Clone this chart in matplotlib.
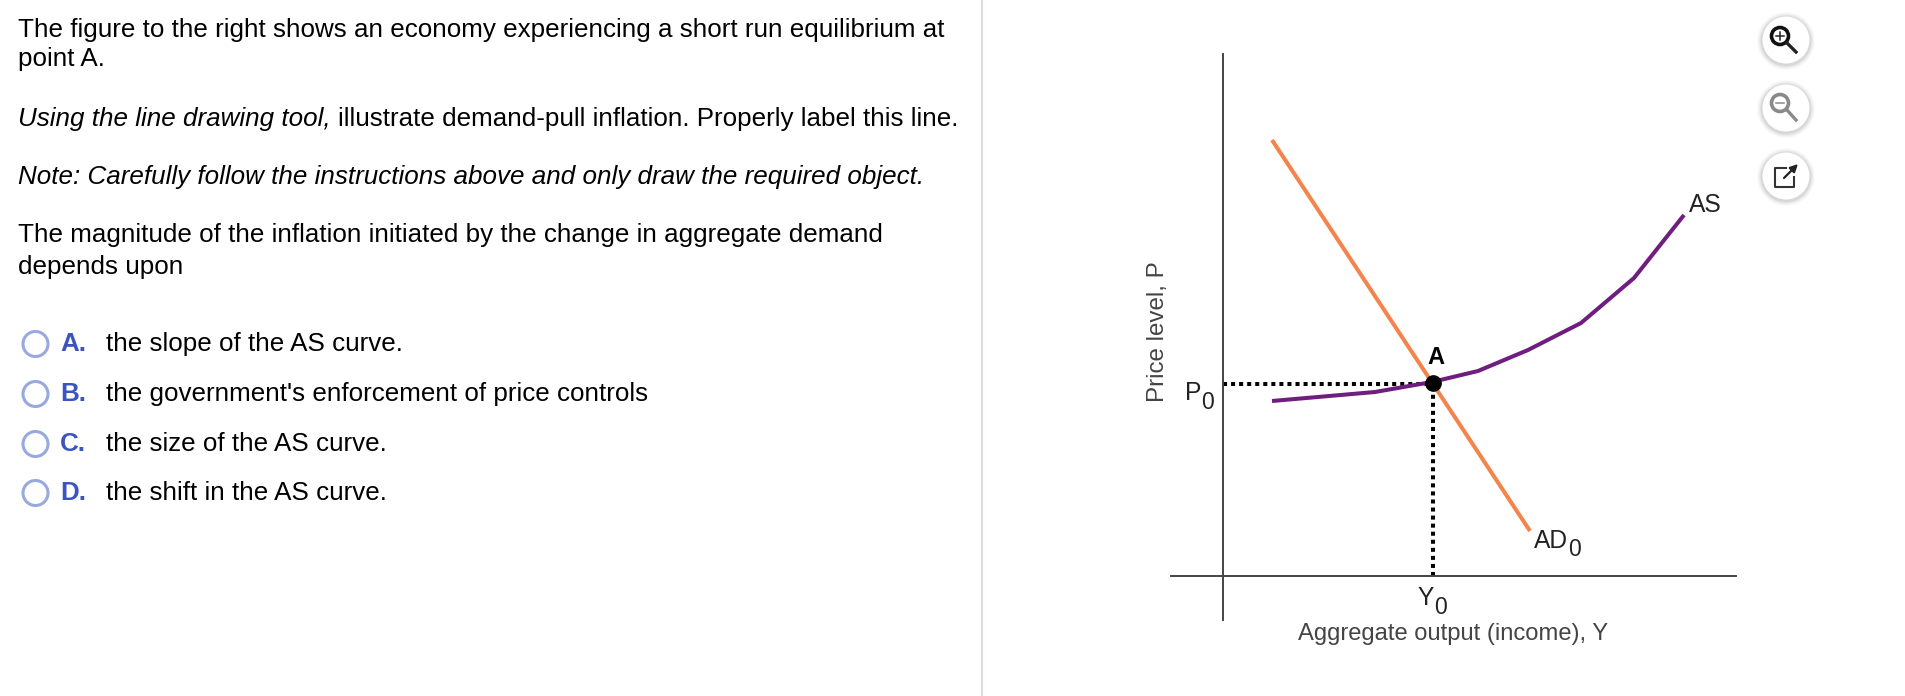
import matplotlib
matplotlib.use("Agg")
import matplotlib.pyplot as plt
from matplotlib.patches import Circle

W, H = 1906, 696

# curves
ad_x = [9.8, 61.4]
ad_p = [87.2, 9.0]
as_x = [9.8, 30.4, 41.8, 51.0, 61.0, 71.6, 82.2, 92.2]
as_p = [35.0, 36.8, 38.8, 41.0, 45.2, 50.6, 59.6, 72.2]
y0 = 42.0
p0 = 38.4

# question text
intro_lines = ["The figure to the right shows an economy experiencing a short run equilibrium at", "point A."]
tool_italic = "Using the line drawing tool,"
tool_rest = "illustrate demand-pull inflation. Properly label this line."
note_line = "Note: Carefully follow the instructions above and only draw the required object."
ask_lines = ["The magnitude of the inflation initiated by the change in aggregate demand", "depends upon"]
option_letters = ["A.", "B.", "C.", "D."]
option_texts = [
    "the slope of the AS curve.",
    "the government's enforcement of price controls",
    "the size of the AS curve.",
    "the shift in the AS curve.",
]

plt.rcParams['font.family'] = ['Liberation Sans', 'DejaVu Sans']

fig = plt.figure(figsize=(W / 100, H / 100), dpi=100)

# overlay in pixel coordinates for the page parts
page = fig.add_axes([0, 0, 1, 1])
page.set_xlim(0, W)
page.set_ylim(H, 0)
page.axis('off')

FS = 18.7
for txt, y in zip(intro_lines, [30, 59]):
    page.text(18, y, txt, fontsize=FS, va='center', color='black')
page.text(18, 119, tool_italic, fontsize=FS, style='italic', va='center', color='black')
page.text(338, 119, tool_rest, fontsize=FS, va='center', color='black')
page.text(18, 177, note_line, fontsize=FS, style='italic', va='center', color='black')
for txt, y in zip(ask_lines, [235, 267]):
    page.text(18, y, txt, fontsize=FS, va='center', color='black')

for letter, txt, y in zip(option_letters, option_texts, [344, 394, 444, 493]):
    page.add_patch(Circle((35.5, y), 12.5, fc='white', ec='#97a9de', lw=2.2))
    page.text(60, y, letter, fontsize=FS, fontweight='bold', va='center', color='#3b55c0')
    page.text(106, y, txt, fontsize=FS, va='center', color='black')

# divider
page.plot([982, 982], [0, H], color='#d3d3e6', lw=1.2)

# zoom / popout buttons
for cy in [40, 108, 176]:
    for r, a in [(29, 0.03), (28, 0.04), (27, 0.06), (26, 0.08), (25, 0.1)]:
        page.add_patch(Circle((1786, cy + 1), r, fc='#777777', ec='none', alpha=a))
    page.add_patch(Circle((1786, cy), 23.5, fc='white', ec='none'))

page.add_patch(Circle((1780, 36), 8.5, fc='none', ec='#111111', lw=2.6))
page.plot([1787, 1796], [43, 52], color='#222222', lw=2.4)
page.plot([1776, 1784], [36, 36], color='#222222', lw=1.1)
page.plot([1780, 1780], [32, 40], color='#222222', lw=1.1)

page.add_patch(Circle((1780, 103), 8.5, fc='none', ec='#8a8a8a', lw=2.6))
page.plot([1787, 1796], [110, 120], color='#8a8a8a', lw=2.4)
page.plot([1776, 1784], [103, 103], color='#8a8a8a', lw=1.1)

page.plot([1786, 1775, 1775, 1794, 1794], [168, 168, 187, 187, 177], color='#333333', lw=1.5)
page.annotate('', xy=(1798, 164), xytext=(1784, 178),
              arrowprops=dict(arrowstyle='-|>', color='#222222', lw=1.6, mutation_scale=11, shrinkA=0, shrinkB=0))

# the chart itself, origin sits where the two axis lines cross
left, right, top, bottom = 1171, 1736, 54, 620
ax = fig.add_axes([left / W, 1 - bottom / H, (right - left) / W, (bottom - top) / H])
ax.patch.set_alpha(0)
ax.set_xlim(-10.4, 102.6)
ax.set_ylim(-8.8, 104.4)
for side in ['top', 'right']:
    ax.spines[side].set_visible(False)
ax.spines['left'].set_position(('data', 0))
ax.spines['bottom'].set_position(('data', 0))
for side in ['left', 'bottom']:
    ax.spines[side].set_color('#444444')
    ax.spines[side].set_linewidth(1.4)
ax.set_xticks([])
ax.set_yticks([])

ax.plot([0, y0], [p0, p0], color='black', lw=2.9, ls=(0, (1, 1)), zorder=2)
ax.plot([y0, y0], [0, p0], color='black', lw=2.9, ls=(0, (1, 1)), zorder=2)
ax.plot(ad_x, ad_p, color='#f4844c', lw=2.9, solid_capstyle='butt', zorder=3)
ax.plot(as_x, as_p, color='#6f1d7f', lw=2.9, solid_capstyle='butt', solid_joinstyle='round', zorder=4)
ax.plot([y0], [p0 + 0.2], 'o', color='black', ms=11, zorder=5)

# labels, subscripts placed as their own text because they sit lower than usual
lab = dict(fontsize=17.7, color='#222222', va='baseline', ha='left')
sub = dict(fontsize=16.5, color='#222222', va='baseline', ha='left')
ax.text(42.6, 42.3, 'A', fontsize=17, fontweight='bold', ha='center', va='baseline', color='black')
ax.text(93.2, 72.8, 'AS', **lab)
ax.text(62.2, 5.6, 'AD', **lab)
ax.text(69.0, 4.0, '0', **sub)
ax.text(-7.6, 35.2, 'P', **lab)
ax.text(-4.4, 33.4, '0', **sub)
ax.text(39.0, -5.8, 'Y', **lab)
ax.text(42.2, -7.6, '0', **sub)
ax.text(46.1, -11.6, 'Aggregate output (income), Y', fontsize=17.1, color='#444444', ha='center', va='center')
ax.text(-13.0, 48.8, 'Price level, P', fontsize=17.4, color='#444444', ha='center', va='center', rotation=90, clip_on=False)

fig.savefig('out.png', dpi=100)
